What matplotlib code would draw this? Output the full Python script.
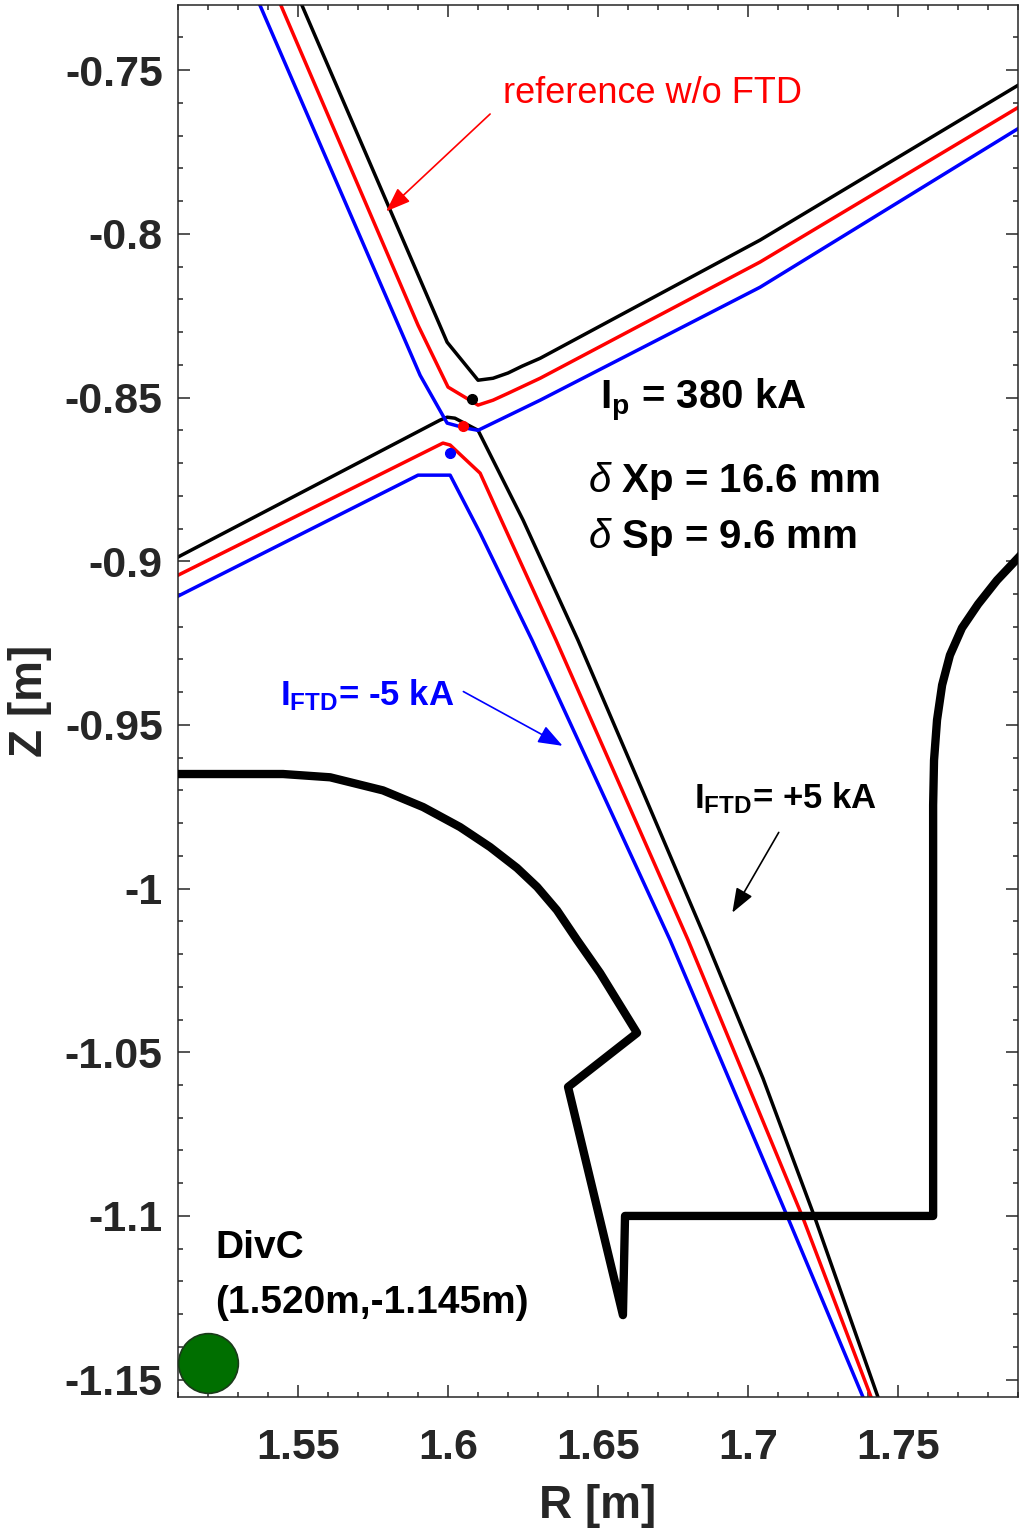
import numpy as np
import matplotlib
matplotlib.use("Agg")
import matplotlib.pyplot as plt
from matplotlib.ticker import MultipleLocator, FixedLocator, FixedFormatter

plt.rcParams['font.family'] = ['Liberation Sans', 'DejaVu Sans']
plt.rcParams['mathtext.fontset'] = 'custom'
plt.rcParams['mathtext.rm'] = 'Liberation Sans'
plt.rcParams['mathtext.it'] = 'Liberation Sans:italic'
plt.rcParams['mathtext.bf'] = 'Liberation Sans:bold'

# separatrix, I_FTD = +5 kA (black)
pos_up_R = [1.5477, 1.5997, 1.61, 1.615, 1.62, 1.6247, 1.6307, 1.704, 1.794]
pos_up_Z = [-0.7225, -0.8331, -0.8447, -0.8441, -0.8425, -0.8404, -0.838, -0.8019, -0.7524]
pos_lo_R = [1.5073, 1.5973, 1.5997, 1.6023, 1.61, 1.625, 1.6433, 1.665, 1.686, 1.705, 1.7223, 1.7433, 1.746]
pos_lo_Z = [-0.9, -0.8569, -0.856, -0.8563, -0.86, -0.8874, -0.9241, -0.9705, -1.0157, -1.058, -1.1006, -1.1553, -1.1623]

# reference w/o FTD (red)
ref_up_R = [1.5407, 1.59, 1.6, 1.61, 1.615, 1.62, 1.6307, 1.704, 1.794]
ref_up_Z = [-0.7225, -0.8279, -0.8468, -0.8523, -0.8508, -0.8487, -0.8441, -0.8086, -0.7592]
ref_lo_R = [1.5073, 1.5983, 1.6007, 1.6107, 1.6173, 1.636, 1.68, 1.7183, 1.741, 1.7437]
ref_lo_Z = [-0.9055, -0.8639, -0.8645, -0.8731, -0.8865, -0.9241, -1.0157, -1.1006, -1.1553, -1.1623]

# I_FTD = -5 kA (blue)
neg_up_R = [1.5337, 1.5907, 1.5997, 1.6057, 1.61, 1.6307, 1.704, 1.794]
neg_up_Z = [-0.7225, -0.8432, -0.8578, -0.8593, -0.86, -0.8508, -0.8163, -0.7656]
neg_lo_R = [1.5073, 1.59, 1.6007, 1.6107, 1.628, 1.674, 1.7133, 1.7383, 1.741]
neg_lo_Z = [-0.9119, -0.8737, -0.8737, -0.8914, -0.9241, -1.0157, -1.1006, -1.1553, -1.1623]

# x-points
xp_R = [1.608, 1.605, 1.6007]
xp_Z = [-0.8505, -0.8587, -0.867]
xp_col = ['k', 'r', 'b']

# divertor wall
wall_R = [1.505, 1.545, 1.5607, 1.5783, 1.5917, 1.604, 1.614, 1.623, 1.6297, 1.6363,
          1.643, 1.6507, 1.663, 1.64, 1.6583, 1.659, 1.7617, 1.7617, 1.762, 1.763,
          1.7647, 1.7673, 1.7713, 1.7767, 1.783, 1.79, 1.794]
wall_Z = [-0.965, -0.965, -0.966, -0.970, -0.9751, -0.9812, -0.9873, -0.9937, -0.9995, -1.0066,
          -1.0157, -1.0258, -1.0441, -1.0606, -1.1303, -1.1, -1.1, -0.9745, -0.9608, -0.9485,
          -0.9378, -0.9287, -0.9204, -0.9131, -0.9058, -0.899, -0.8951]

# DivC coil
coil_R = 1.520
coil_Z = -1.145

xticks = [1.55, 1.6, 1.65, 1.7, 1.75]
xtick_labels = ['1.55', '1.6', '1.65', '1.7', '1.75']
yticks = [-1.15, -1.1, -1.05, -1.0, -0.95, -0.9, -0.85, -0.8, -0.75]
ytick_labels = ['-1.15', '-1.1', '-1.05', '-1', '-0.95', '-0.9', '-0.85', '-0.8', '-0.75']

fig = plt.figure(figsize=(10.25, 15.38), dpi=100)
ax = fig.add_axes([0.1737, 0.0917, 0.8195, 0.905])

lw = 2.5
ax.plot(pos_up_R, pos_up_Z, color='k', lw=lw)
ax.plot(pos_lo_R, pos_lo_Z, color='k', lw=lw)
ax.plot(ref_up_R, ref_up_Z, color='r', lw=lw)
ax.plot(ref_lo_R, ref_lo_Z, color='r', lw=lw)
ax.plot(neg_up_R, neg_up_Z, color='b', lw=lw)
ax.plot(neg_lo_R, neg_lo_Z, color='b', lw=lw)
for r, z, c in zip(xp_R, xp_Z, xp_col):
    ax.plot(r, z, 'o', color=c, ms=7, zorder=4)

ax.plot(wall_R, wall_Z, color='k', lw=6, solid_joinstyle='round', solid_capstyle='round', zorder=3)
ax.plot(coil_R, coil_Z, 'o', ms=43, mfc='#006f00', mec='#1a3a1a', mew=1.2, clip_on=False, zorder=5)

ax.set_xlim(1.51, 1.79)
ax.set_ylim(-1.1553, -0.7301)

ax.xaxis.set_major_locator(FixedLocator(xticks))
ax.xaxis.set_major_formatter(FixedFormatter(xtick_labels))
ax.yaxis.set_major_locator(FixedLocator(yticks))
ax.yaxis.set_major_formatter(FixedFormatter(ytick_labels))
ax.xaxis.set_minor_locator(MultipleLocator(0.01))
ax.yaxis.set_minor_locator(MultipleLocator(0.01))
ax.tick_params(which='both', direction='in', top=True, right=True, color='#262626', width=1.1)
ax.tick_params(which='major', length=8.5)
ax.tick_params(which='minor', length=3.6)
ax.tick_params(axis='x', which='major', pad=22, labelsize=31)
ax.tick_params(axis='y', which='major', pad=11, labelsize=31)
for lab in ax.get_xticklabels() + ax.get_yticklabels():
    lab.set_fontweight('bold')
    lab.set_color('#262626')
for sp in ax.spines.values():
    sp.set_color('#262626')
    sp.set_linewidth(1.1)

ax.set_xlabel('R [m]', fontsize=33, fontweight='bold', color='#262626')
ax.set_ylabel('Z [m]', fontsize=33, fontweight='bold', color='#262626')
ax.xaxis.set_label_coords(0.5, -0.078)
ax.xaxis.label.set_va('center')
ax.yaxis.set_label_coords(-0.176, 0.5)
ax.yaxis.label.set_va('center')

# annotations
arrow_style = '-|>,head_length=0.75,head_width=0.28'
ax.annotate('', xy=(1.5787, -0.7937), xytext=(1.6147, -0.7628),
            arrowprops=dict(arrowstyle=arrow_style, color='r', lw=1.2, mutation_scale=20))
ax.text(1.6183, -0.757, 'reference w/o FTD', color='r', fontsize=26, ha='left', va='center')

ax.annotate('', xy=(1.639, -0.9568), xytext=(1.6043, -0.9394),
            arrowprops=dict(arrowstyle=arrow_style, color='b', lw=1.2, mutation_scale=20))
ax.text(1.544, -0.941, r'I$_{\mathbf{FTD}}$= -5 kA', color='b', fontsize=25,
        fontweight='bold', ha='left', va='center')

ax.annotate('', xy=(1.6943, -1.0081), xytext=(1.7107, -0.9821),
            arrowprops=dict(arrowstyle=arrow_style, color='k', lw=1.2, mutation_scale=20))
ax.text(1.682, -0.9725, r'I$_{\mathbf{FTD}}$= +5 kA', color='k', fontsize=25,
        fontweight='bold', ha='left', va='center')

ax.text(1.6507, -0.851, r'I$_{\mathbf{p}}$ = 380 kA', fontsize=29, fontweight='bold',
        ha='left', va='center')
ax.text(1.6467, -0.8755, r'$\delta$ Xp = 16.6 mm', fontsize=29, fontweight='bold',
        ha='left', va='center')
ax.text(1.6467, -0.8926, r'$\delta$ Sp = 9.6 mm', fontsize=29, fontweight='bold',
        ha='left', va='center')

ax.text(1.5223, -1.1098, 'DivC', fontsize=28, fontweight='bold', ha='left', va='center')
ax.text(1.5223, -1.1266, '(1.520m,-1.145m)', fontsize=28, fontweight='bold', ha='left', va='center')

fig.savefig('out.png', dpi=100)
